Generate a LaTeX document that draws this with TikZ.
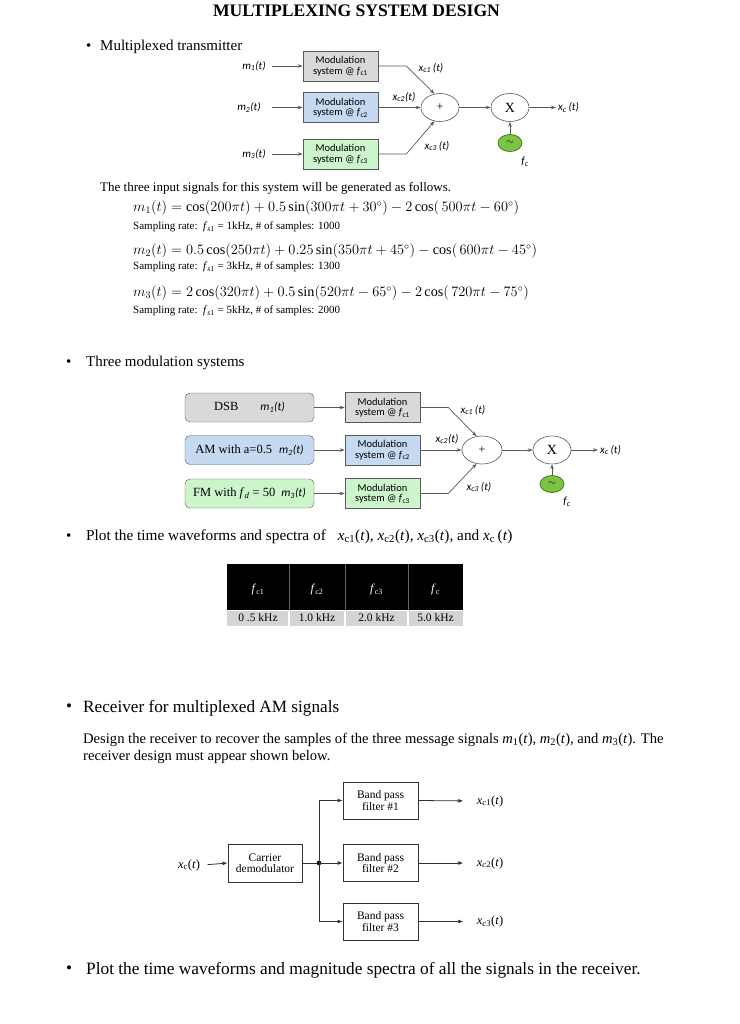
\documentclass[tikz,border=0pt]{standalone}
\usepackage{fontspec}
\setmainfont{Liberation Serif}
\newfontfamily\calfont{Carlito}
\usetikzlibrary{shapes.geometric,arrows.meta,calc}
\newcommand\fsz[1]{\fontsize{#1}{#1}\selectfont}
\definecolor{boxgray}{HTML}{D9D9D9}
\definecolor{boxblue}{HTML}{C5D9F1}
\definecolor{boxgreen}{HTML}{CCF5CC}
\definecolor{oscgreen}{HTML}{7DC242}
\definecolor{oscedge}{HTML}{3F7F1F}
\definecolor{linegray}{HTML}{595959}
\definecolor{tabgray}{HTML}{D4D4D4}
\tikzset{
  modbox/.style={draw=linegray, minimum width=75pt, minimum height=30pt, inner sep=1pt, align=center, font=\calfont\fsz{10.5}, line width=0.6pt},
  rbox/.style={draw=linegray, rounded corners=5pt, minimum width=129pt, minimum height=29pt, inner sep=1pt, font=\fsz{12.5}},
  ell/.style={ellipse, draw=linegray, minimum width=38pt, minimum height=28pt, inner sep=0pt, line width=0.6pt},
  osc/.style={ellipse, draw=oscedge, fill=oscgreen, minimum width=24pt, minimum height=17pt, inner sep=0pt, line width=0.8pt},
  lbl/.style={font=\calfont\itshape\fsz{11}, inner sep=2pt},
  arr/.style={draw=linegray, line width=0.7pt, -{Stealth[length=5pt,width=3.5pt]}},
  rbp/.style={draw=black!80, line width=0.8pt, minimum width=75pt, minimum height=37pt, align=center, font=\fsz{11.5}, inner sep=1pt},
  rarr/.style={draw=black!80, line width=0.8pt, -{Latex[length=5pt,width=4pt]}},
  txt/.style={anchor=west, inner sep=0pt},
}
\begin{document}
\begin{tikzpicture}[x=1pt,y=-1pt]
\fill[white] (0,0) rectangle (739,1024);
\useasboundingbox (0,0) rectangle (739,1024);

% title
\node[font=\bfseries\fsz{17.6}] (title) at (356.5,11) {MULTIPLEXING SYSTEM DESIGN};

% section 1
\node[txt,font=\fsz{15}] (bul1) at (86,47) {\textbullet};
\node[txt,font=\fsz{15}] (sec1) at (100,47) {Multiplexed transmitter};

\node[modbox,fill=boxgray] (b1) at (340.5,66) {Modulation\\system @ \textit{f}\textsubscript{c1}};
\node[modbox,fill=boxblue] (b2) at (340.5,107.5) {Modulation\\system @ \textit{f}\textsubscript{c2}};
\node[modbox,fill=boxgreen] (b3) at (340.5,154) {Modulation\\system @ \textit{f}\textsubscript{c3}};
\node[lbl] (m1) at (254,66) {m\textsubscript{1}(t)};
\node[lbl] (m2) at (249,107.5) {m\textsubscript{2}(t)};
\node[lbl] (m3) at (254,154) {m\textsubscript{3}(t)};
\draw[arr] (m1.east) ++(4,0) -- (b1.west);
\draw[arr] (m2.east) ++(9,0) -- (b2.west);
\draw[arr] (m3.east) ++(4,0) -- (b3.west);
\node[ell] (s1) at (440,107.5) {\fsz{12}+};
\node[ell] (x1) at (510,107.5) {\fsz{14}X};
\node[osc] (o1) at (510,143) {\bfseries$\sim$};
\draw[arr] (b1.east) -- ++(28,0) -- (s1.112);
\draw[arr] (b2.east) -- (s1.west);
\draw[arr] (b3.east) -- ++(28,0) -- (s1.248);
\draw[arr] (s1.east) -- (x1.west);
\draw[arr] (o1.north) -- (x1.south);
\node[lbl,anchor=west] (xo1) at (556,107.5) {x\textsubscript{c}\,(t)};
\draw[arr] (x1.east) -- (xo1.west);
\node[lbl] (l11) at (431,68) {x\textsubscript{c1}\,(t)};
\node[lbl] (l12) at (404,97) {x\textsubscript{c2}(t)};
\node[lbl] (l13) at (437,146) {x\textsubscript{c3}\,(t)};
\node[lbl] (fc1) at (525,162) {f\textsubscript{c}};

% input signals
\node[txt,font=\fsz{13}] (intro) at (100,188) {The three input signals for this system will be generated as follows.};
\node[txt,font=\fsz{14.2}] (eq1) at (133,208) {$m_1(t) = \cos(200\pi t) + 0.5\sin(300\pi t + 30^\circ) - 2\cos(\,500\pi t - 60^\circ)$};
\node[txt,font=\fsz{11}] (sr1) at (133,227) {Sampling rate:\ \ \textit{f}\textsubscript{\textit{s}1} = 1kHz, \# of samples: 1000};
\node[txt,font=\fsz{14.2}] (eq2) at (133,251) {$m_2(t) = 0.5\cos(250\pi t) + 0.25\sin(350\pi t + 45^\circ) - \cos(\,600\pi t - 45^\circ)$};
\node[txt,font=\fsz{11}] (sr2) at (133,267) {Sampling rate:\ \ \textit{f}\textsubscript{\textit{s}1} = 3kHz, \# of samples: 1300};
\node[txt,font=\fsz{14.2}] (eq3) at (133,293) {$m_3(t) = 2\cos(320\pi t) + 0.5\sin(520\pi t - 65^\circ) - 2\cos(\,720\pi t - 75^\circ)$};
\node[txt,font=\fsz{11}] (sr3) at (133,311) {Sampling rate:\ \ \textit{f}\textsubscript{\textit{s}1} = 5kHz, \# of samples: 2000};

% section 2
\node[txt,font=\fsz{15}] (bul2) at (66,363) {\textbullet};
\node[txt,font=\fsz{15}] (sec2) at (86,363) {Three modulation systems};

\node[rbox,fill=boxgray] (r1) at (249.5,407.5) {DSB\hspace{22pt}{\calfont\itshape\fsz{11.5}m\textsubscript{1}(t)}};
\node[rbox,fill=boxblue] (r2) at (249.5,450) {AM with a=0.5\hspace{7pt}{\calfont\itshape\fsz{11.5}m\textsubscript{2}(t)}};
\node[rbox,fill=boxgreen] (r3) at (249.5,493.5) {FM with \textit{f}\textsubscript{\textit{d}} = 50\hspace{6pt}{\calfont\itshape\fsz{11.5}m\textsubscript{3}(t)}};
\node[modbox,fill=boxgray] (c1) at (382.5,407.5) {Modulation\\system @ \textit{f}\textsubscript{c1}};
\node[modbox,fill=boxblue] (c2) at (382.5,450) {Modulation\\system @ \textit{f}\textsubscript{c2}};
\node[modbox,fill=boxgreen] (c3) at (382.5,493.5) {Modulation\\system @ \textit{f}\textsubscript{c3}};
\draw[arr] (r1.east) -- (c1.west);
\draw[arr] (r2.east) -- (c2.west);
\draw[arr] (r3.east) -- (c3.west);
\node[ell,minimum width=40pt] (s2) at (482,450) {\fsz{12}+};
\node[ell] (x2) at (552,450) {\fsz{14}X};
\node[osc] (o2) at (552,484) {\bfseries$\sim$};
\draw[arr] (c1.east) -- ++(28,0) -- (s2.112);
\draw[arr] (c2.east) -- (s2.west);
\draw[arr] (c3.east) -- ++(28,0) -- (s2.248);
\draw[arr] (s2.east) -- (x2.west);
\draw[arr] (o2.north) -- (x2.south);
\node[lbl,anchor=west] (xo2) at (598,450) {x\textsubscript{c}\,(t)};
\draw[arr] (x2.east) -- (xo2.west);
\node[lbl] (l21) at (473,410) {x\textsubscript{c1}\,(t)};
\node[lbl] (l22) at (447,439) {x\textsubscript{c2}(t)};
\node[lbl] (l23) at (479,487) {x\textsubscript{c3}\,(t)};
\node[lbl] (fc2) at (567,502) {f\textsubscript{c}};

% plot bullet
\node[txt,font=\fsz{15}] (bul3) at (66,537) {\textbullet};
\node[txt,font=\fsz{15.3}] (sec3) at (86,537) {Plot the time waveforms and spectra of\hspace{12pt}\textit{x}\textsubscript{c1}(\textit{t}), \textit{x}\textsubscript{c2}(\textit{t}), \textit{x}\textsubscript{c3}(\textit{t}), and \textit{x}\textsubscript{c}\,(\textit{t})};

% table
\fill[black] (227,564) rectangle (463,610);
\fill[tabgray] (227,610) rectangle (463,626);
\foreach \xx in {289,345,408} {
  \draw[black!60, line width=0.6pt] (\xx,564) -- (\xx,610);
  \draw[white, line width=1.2pt] (\xx,610) -- (\xx,626);
}
\draw[white, line width=1pt] (227,610) -- (463,610);
\node[text=white,font=\fsz{12}] (h1) at (258,590) {\textit{f}\textsubscript{c1}};
\node[text=white,font=\fsz{12}] (h2) at (317,590) {\textit{f}\textsubscript{c2}};
\node[text=white,font=\fsz{12}] (h3) at (376.5,590) {\textit{f}\textsubscript{c3}};
\node[text=white,font=\fsz{12}] (h4) at (435.5,590) {\textit{f}\textsubscript{c}};
\node[font=\fsz{11.5}] (v1) at (258,618) {0 .5 kHz};
\node[font=\fsz{11.5}] (v2) at (317,618) {1.0 kHz};
\node[font=\fsz{11.5}] (v3) at (376.5,618) {2.0 kHz};
\node[font=\fsz{11.5}] (v4) at (435.5,618) {5.0 kHz};

% section 3
\node[txt,font=\fsz{17}] (bul4) at (66,708) {\textbullet};
\node[txt,font=\fsz{17.2}] (sec4) at (83,708) {Receiver for multiplexed AM signals};
\node[txt,font=\fsz{14.6}] (des1) at (83,740) {Design the receiver to recover the samples of the three message signals \textit{m}\textsubscript{1}(\textit{t}), \textit{m}\textsubscript{2}(\textit{t}), and \textit{m}\textsubscript{3}(\textit{t}). The};
\node[txt,font=\fsz{14.6}] (des2) at (83,757) {receiver design must appear shown below.};

% receiver
\node[font=\fsz{12.5}] (xin) at (189,865) {\textit{x}\textsubscript{c}(\textit{t})};
\node[rbp,minimum width=74pt,minimum height=38pt] (cd) at (265,863) {Carrier\\demodulator};
\coordinate (j) at (319,863);
\node[rbp] (bp1) at (380.5,800.5) {Band pass\\filter \#1};
\node[rbp] (bp2) at (380.5,863) {Band pass\\filter \#2};
\node[rbp] (bp3) at (380.5,921.5) {Band pass\\filter \#3};
\node[font=\fsz{12.5}] (y1) at (490,801) {\textit{x}\textsubscript{\textit{c}1}(\textit{t})};
\node[font=\fsz{12.5}] (y2) at (490,863) {\textit{x}\textsubscript{\textit{c}2}(\textit{t})};
\node[font=\fsz{12.5}] (y3) at (490,921.5) {\textit{x}\textsubscript{\textit{c}3}(\textit{t})};
\draw[rarr,shorten <=4pt] (xin.east) -- (cd.west);
\draw[draw=black!80,line width=0.8pt] (cd.east) -- (j);
\fill[black] (j) circle (2.3pt);
\draw[draw=black!80,line width=0.8pt] (j |- bp1.west) -- (j |- bp3.west);
\draw[rarr] (j |- bp1.west) -- (bp1.west);
\draw[rarr] (j) -- (bp2.west);
\draw[rarr] (j |- bp3.west) -- (bp3.west);
\draw[rarr,shorten >=10pt] (bp1.east) -- (y1.west);
\draw[rarr,shorten >=10pt] (bp2.east) -- (y2.west);
\draw[rarr,shorten >=10pt] (bp3.east) -- (y3.west);

% final bullet
\node[txt,font=\fsz{17}] (bul5) at (66,970) {\textbullet};
\node[txt,font=\fsz{17.3}] (sec5) at (86,970) {Plot the time waveforms and magnitude spectra of all the signals in the receiver.};
\end{tikzpicture}
\end{document}
